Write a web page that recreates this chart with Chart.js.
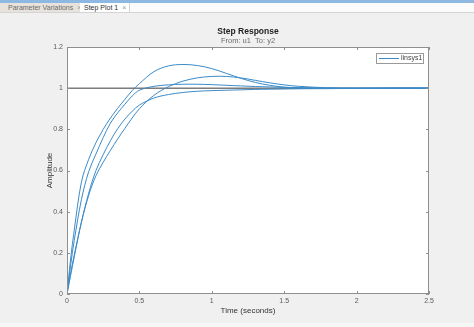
<!DOCTYPE html>
<html>
<head>
<meta charset="utf-8">
<script src="https://cdn.jsdelivr.net/npm/chart.js@4.4.1/dist/chart.umd.min.js"></script>
<style>
  html, body { margin: 0; padding: 0; width: 474px; height: 327px; overflow: hidden; background: #f7f7f7; font-family: "Liberation Sans", Arial, sans-serif; }
  #tabs { position: absolute; left: 0; top: 0; width: 474px; height: 13px; box-sizing: border-box; border-top: 3px solid #8cb8e2; border-bottom: 1px solid #d4d4d4; background: #fbfbfb; display: flex; font-size: 7px; }
  .tab { height: 9px; line-height: 9px; padding: 0 3px 0 8px; color: #6a6a6a; white-space: nowrap; }
  .tab.off { background: #e7e3dc; width: 69px; }
  .tab.on { background: #ffffff; color: #333; border-right: 1px solid #d4d4d4; padding-left: 4px; }
  .tab span { color: #999; margin-left: 4px; }
  #fig { position: absolute; left: 0; top: 13px; width: 474px; height: 310px; background: #f0f0f0; }
  #wrap { position: absolute; left: 0; top: 13px; width: 474px; height: 314px; }
</style>
</head>
<body>
<div id="tabs">
  <div class="tab off">Parameter Variations<span>×</span></div>
  <div class="tab on">Step Plot 1<span>×</span></div>
</div>
<div id="fig"></div>
<div id="wrap"><canvas id="chart-step" width="474" height="314"></canvas></div>
<script>
// tiempo de simulación (s) y respuestas al escalón
const TIME = [0, 0.025, 0.05, 0.1, 0.15, 0.2, 0.25, 0.3, 0.35, 0.4, 0.45, 0.5, 0.6, 0.7, 0.8, 0.9, 1.0, 1.1, 1.2, 1.3, 1.4, 1.5, 1.6, 1.8, 2.0, 2.25, 2.5];
const RESP_A = [0, 0.17, 0.31, 0.545, 0.655, 0.735, 0.8, 0.855, 0.902, 0.946, 0.988, 1.022, 1.08, 1.108, 1.115, 1.11, 1.095, 1.072, 1.048, 1.028, 1.014, 1.005, 1.0, 0.998, 0.999, 1.0, 1.0];
const RESP_B = [0, 0.09, 0.18, 0.35, 0.48, 0.575, 0.64, 0.698, 0.753, 0.805, 0.855, 0.9, 0.965, 1.007, 1.034, 1.05, 1.057, 1.057, 1.05, 1.038, 1.026, 1.016, 1.009, 1.002, 1.0, 1.0, 1.0];
const RESP_C = [0, 0.14, 0.26, 0.46, 0.595, 0.68, 0.76, 0.83, 0.88, 0.922, 0.962, 0.99, 1.009, 1.016, 1.019, 1.019, 1.017, 1.014, 1.011, 1.008, 1.006, 1.004, 1.003, 1.001, 1.0, 1.0, 1.0];
const RESP_D = [0, 0.1, 0.19, 0.35, 0.49, 0.6, 0.677, 0.745, 0.803, 0.85, 0.888, 0.918, 0.952, 0.969, 0.979, 0.985, 0.988, 0.99, 0.992, 0.994, 0.995, 0.996, 0.997, 0.998, 0.999, 1.0, 1.0];
const STEADY = [1, 1];
const STEADY_TIME = [0, 2.5];

const X_TICKS = [0, 0.5, 1, 1.5, 2, 2.5];
const X_LABELS = ['0', '0.5', '1', '1.5', '2', '2.5'];
const Y_TICKS = [0, 0.2, 0.4, 0.6, 0.8, 1, 1.2];
const Y_LABELS = ['0', '0.2', '0.4', '0.6', '0.8', '1', '1.2'];

const LINE_COLOR = '#3b8bc9';
const TICK_FONT = { family: '"Liberation Sans", Arial, sans-serif', size: 7 };

const toPoints = (xs, ys) => xs.map((x, i) => ({ x, y: ys[i] }));

// fondo blanco, marco, marcas interiores, títulos y leyenda estilo MATLAB
const matlabAxes = {
  id: 'matlabAxes',
  beforeDraw(chart) {
    const { ctx, chartArea: a } = chart;
    ctx.save();
    ctx.fillStyle = '#ffffff';
    ctx.fillRect(a.left, a.top, a.right - a.left, a.bottom - a.top);
    ctx.restore();
  },
  afterDraw(chart) {
    const { ctx, chartArea: a, scales } = chart;
    ctx.save();
    ctx.strokeStyle = '#8f8f8f';
    ctx.lineWidth = 1;
    ctx.strokeRect(a.left + 0.5, a.top + 0.5, a.right - a.left - 1, a.bottom - a.top - 1);

    ctx.beginPath();
    X_TICKS.forEach((v) => {
      const px = Math.round(scales.x.getPixelForValue(v)) + 0.5;
      ctx.moveTo(px, a.bottom); ctx.lineTo(px, a.bottom - 3);
      ctx.moveTo(px, a.top); ctx.lineTo(px, a.top + 3);
    });
    Y_TICKS.forEach((v) => {
      const py = Math.round(scales.y.getPixelForValue(v)) + 0.5;
      ctx.moveTo(a.left, py); ctx.lineTo(a.left + 3, py);
      ctx.moveTo(a.right, py); ctx.lineTo(a.right - 3, py);
    });
    ctx.stroke();

    const cx = (a.left + a.right) / 2;
    ctx.textAlign = 'center';
    ctx.textBaseline = 'middle';
    ctx.fillStyle = '#222';
    ctx.font = 'bold 8.5px "Liberation Sans", Arial, sans-serif';
    ctx.fillText('Step Response', cx, a.top - 15);
    ctx.fillStyle = '#6b6b6b';
    ctx.font = '7.5px "Liberation Sans", Arial, sans-serif';
    ctx.fillText('From: u1  To: y2', cx, a.top - 6);

    ctx.fillStyle = '#333';
    ctx.font = '8px "Liberation Sans", Arial, sans-serif';
    ctx.fillText('Time (seconds)', cx, a.bottom + 17);
    ctx.save();
    ctx.translate(a.left - 17, (a.top + a.bottom) / 2);
    ctx.rotate(-Math.PI / 2);
    ctx.fillText('Amplitude', 0, 0);
    ctx.restore();

    // leyenda
    const lx = a.right - 53, ly = a.top + 6;
    ctx.fillStyle = '#fff';
    ctx.fillRect(lx, ly, 47, 10);
    ctx.strokeStyle = '#9a9a9a';
    ctx.strokeRect(lx + 0.5, ly + 0.5, 47, 10);
    ctx.strokeStyle = LINE_COLOR;
    ctx.beginPath();
    ctx.moveTo(lx + 3, ly + 5.5); ctx.lineTo(lx + 23, ly + 5.5);
    ctx.stroke();
    ctx.fillStyle = '#444';
    ctx.font = '7px "Liberation Sans", Arial, sans-serif';
    ctx.textAlign = 'left';
    ctx.fillText('linsys1', lx + 25, ly + 5.5);
    ctx.restore();
  }
};

const curve = (ys) => ({
  label: 'linsys1',
  data: toPoints(TIME, ys),
  borderColor: LINE_COLOR,
  borderWidth: 1,
  pointRadius: 0,
  tension: 0.35,
  order: 1
});

new Chart(document.getElementById('chart-step'), {
  type: 'line',
  data: {
    datasets: [
      { label: 'steady', data: toPoints(STEADY_TIME, STEADY), borderColor: '#3a3a3a', borderWidth: 1, pointRadius: 0, order: 2 },
      curve(RESP_A),
      curve(RESP_B),
      curve(RESP_C),
      curve(RESP_D)
    ]
  },
  options: {
    responsive: false,
    animation: false,
    layout: { padding: { left: 0, right: 45, top: 34, bottom: 0 } },
    plugins: { legend: { display: false }, tooltip: { enabled: false }, title: { display: false } },
    scales: {
      x: {
        type: 'linear', min: 0, max: 2.5,
        grid: { display: false, drawTicks: false }, border: { display: false },
        afterBuildTicks: (s) => { s.ticks = X_TICKS.map((v) => ({ value: v })); },
        afterFit: (s) => { s.height = 33; },
        ticks: { padding: 3, color: '#5a5a5a', font: TICK_FONT, maxRotation: 0, callback: (v) => X_LABELS[X_TICKS.indexOf(v)] }
      },
      y: {
        type: 'linear', min: 0, max: 1.2,
        grid: { display: false, drawTicks: false }, border: { display: false },
        afterBuildTicks: (s) => { s.ticks = Y_TICKS.map((v) => ({ value: v })); },
        afterFit: (s) => { s.width = 67; },
        ticks: { padding: 4, color: '#5a5a5a', font: TICK_FONT, callback: (v) => Y_LABELS[Y_TICKS.indexOf(v)] }
      }
    }
  },
  plugins: [matlabAxes]
});
</script>
</body>
</html>
